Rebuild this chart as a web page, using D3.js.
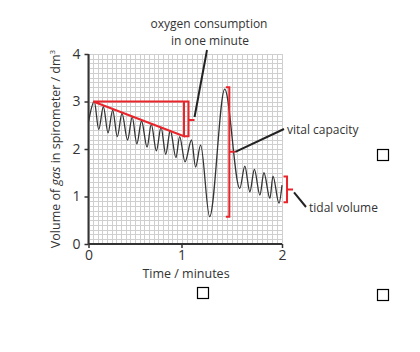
<!DOCTYPE html>
<html><head><meta charset="utf-8">
<script src="https://cdn.jsdelivr.net/npm/d3@7"></script>
<style>body{margin:0;background:#fff}svg{display:block}text{font-family:"Open Sans",sans-serif;fill:#333}</style>
</head><body><svg id="c" width="420" height="352"></svg>
<script>
// trace: time (minutes) and volume (dm3) at turning points
const traceTime = [0,0.062,0.11,0.16,0.21,0.26,0.31,0.36,0.42,0.47,0.52,0.57,0.63,0.675,0.73,0.78,0.83,0.88,0.94,0.98,1.035,1.10,1.14,1.19,1.28,1.43,1.58,1.63,1.68,1.725,1.78,1.82,1.88,1.91,1.97,2.0];
const traceVol  = [2.57,3.0,2.41,2.89,2.34,2.82,2.26,2.75,2.19,2.67,2.11,2.59,2.04,2.52,1.96,2.46,1.89,2.39,1.82,2.26,1.73,2.19,1.62,2.08,0.575,3.26,1.17,1.64,1.10,1.57,1.03,1.50,0.96,1.43,0.86,1.24];
const xTicks = [0,1,2];
const yTicks = [0,1,2,3,4];
const xTickLabels = ["0","1","2"];
const yTickLabels = ["0","1","2","3","4"];
// annotations (data coordinates)
const triangle = [[0.05,3.0],[1.025,3.0],[1.025,2.27]];
const brackets = [
  {t:1.07, v0:3.0, v1:2.27, mid:2.61},
  {t:1.476, v0:3.30, v1:0.575, mid:1.94},
  {t:2.05, v0:1.42, v1:0.88, mid:1.15}
];
const labels = ["oxygen consumption","in one minute","vital capacity","tidal volume"];

const svg = d3.select("#c");
const x = d3.scaleLinear().domain([0,1,2]).range([88.5,181.5,282]);
const y = d3.scaleLinear().domain([0,4]).range([244,54]);

// grid
const g = svg.append("g").attr("stroke","#cfcfcf").attr("stroke-width",1);
d3.range(0,2.0001,0.05).forEach(t=>{
  const px=Math.round(x(t))+0.5;
  g.append("line").attr("x1",px).attr("x2",px).attr("y1",y(4)).attr("y2",y(0));
});
d3.range(0,4.0001,0.1).forEach(v=>{
  const py=Math.round(y(v))+0.5;
  g.append("line").attr("x1",x(0)).attr("x2",x(2)).attr("y1",py).attr("y2",py);
});

// axes
const ya = svg.append("g").attr("transform",`translate(${x(0)},0)`)
  .call(d3.axisLeft(y).tickValues(yTicks).tickSize(4).tickPadding(4).tickFormat((d,i)=>yTickLabels[i]));
const xa = svg.append("g").attr("transform",`translate(0,${y(0)})`)
  .call(d3.axisBottom(x).tickValues(xTicks).tickSize(4).tickPadding(2).tickFormat((d,i)=>xTickLabels[i]));
[ya,xa].forEach(a=>{
  a.select(".domain").attr("stroke","#333").attr("stroke-width",2);
  a.selectAll(".tick line").attr("stroke","#333").attr("stroke-width",1.5);
  a.selectAll("text").style("font-size","14px").attr("fill","#444");
});
xa.select(".domain").attr("d",`M${x(0)},0H${x(2)}`);
ya.select(".domain").attr("d",`M0,${y(4)}V${y(0)}`);

// trace
const pts = traceTime.map((t,i)=>[t,traceVol[i]]);
svg.append("path").datum(pts)
  .attr("d",d3.line().x(d=>x(d[0])).y(d=>y(d[1])).curve(d3.curveMonotoneX))
  .attr("fill","none").attr("stroke","#333").attr("stroke-width",1.3);

// red annotations
const red="#e8252b";
svg.append("path").datum(triangle)
  .attr("d",d3.line().x(d=>x(d[0])).y(d=>y(d[1])).curve(d3.curveLinearClosed))
  .attr("fill","none").attr("stroke",red).attr("stroke-width",2);
brackets.forEach(b=>{
  const px=x(b.t), p0=y(b.v0), p1=y(b.v1), pm=y(b.mid);
  svg.append("path").attr("d",`M${px-3.5},${p0}H${px}V${p1}H${px-3.5}M${px},${pm}H${px+6}`)
    .attr("fill","none").attr("stroke",red).attr("stroke-width",2);
});

// leader lines
const lead = svg.append("g").attr("stroke","#222").attr("stroke-width",2);
lead.append("line").attr("x1",x(brackets[0].t)+6).attr("y1",y(brackets[0].mid)-3).attr("x2",207).attr("y2",50);
lead.append("line").attr("x1",x(brackets[1].t)+6).attr("y1",y(brackets[1].mid)).attr("x2",284).attr("y2",129);
lead.append("line").attr("x1",x(brackets[2].t)+7).attr("y1",y(brackets[2].mid)+3).attr("x2",306).attr("y2",207);

// labels
svg.append("text").attr("x",209).attr("y",28).attr("text-anchor","middle").style("font-size","12px").text(labels[0]);
svg.append("text").attr("x",210).attr("y",45).attr("text-anchor","middle").style("font-size","12px").text(labels[1]);
svg.append("text").attr("x",287).attr("y",134).style("font-size","12px").text(labels[2]);
svg.append("text").attr("x",309).attr("y",212).style("font-size","12px").text(labels[3]);

// axis titles
svg.append("text").attr("x",186).attr("y",278).attr("text-anchor","middle").style("font-size","12.5px").text("Time / minutes");
const yt = svg.append("text").attr("transform","translate(60,149) rotate(-90)").attr("text-anchor","middle").style("font-size","12.5px");
yt.append("tspan").text("Volume of ");
yt.append("tspan").style("font-style","italic").text("gas");
yt.append("tspan").text(" in spirometer / dm");
yt.append("tspan").attr("dy",-5).style("font-size","8px").text("3");

// answer boxes
[[377.5,149.5],[197.5,287.5],[377.5,289.5]].forEach(p=>{
  svg.append("rect").attr("x",p[0]).attr("y",p[1]).attr("width",11).attr("height",11)
    .attr("fill","#fff").attr("stroke","#000").attr("stroke-width",1.2);
});
</script></body></html>
